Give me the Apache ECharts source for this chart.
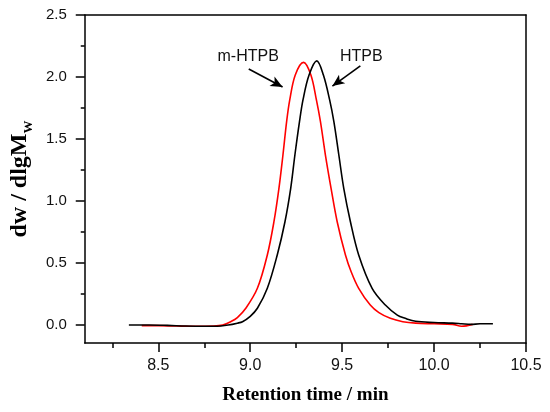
<!DOCTYPE html>
<html>
<head>
<meta charset="utf-8">
<script src="https://cdn.jsdelivr.net/npm/echarts@6/dist/echarts.min.js"></script>
<style>
html,body{margin:0;padding:0;background:#fff;}
#c{width:550px;height:412px;}
</style>
</head>
<body>
<div id="c"></div>
<script>
// Retention time (min) and dw/dlgMw values
const htpbX = [8.34, 8.45, 8.55, 8.65, 8.75, 8.82, 8.88, 8.93, 8.958, 9.00, 9.039, 9.093, 9.147, 9.189, 9.22, 9.243, 9.268, 9.287, 9.32, 9.362, 9.398, 9.432, 9.455, 9.482, 9.509, 9.545, 9.59, 9.663, 9.735, 9.80, 9.843, 9.90, 10.0, 10.1, 10.15, 10.2, 10.25, 10.32];
const htpbY = [0.00, 0.00, -0.003, -0.008, -0.01, -0.01, 0.00, 0.015, 0.027, 0.07, 0.135, 0.296, 0.565, 0.833, 1.10, 1.371, 1.64, 1.815, 2.016, 2.13, 2.016, 1.815, 1.64, 1.371, 1.10, 0.833, 0.565, 0.296, 0.161, 0.08, 0.054, 0.03, 0.02, 0.015, 0.01, 0.005, 0.01, 0.01];

const mhtpbX = [8.41, 8.5, 8.6, 8.7, 8.8, 8.85, 8.894, 8.93, 8.976, 9.039, 9.093, 9.129, 9.156, 9.178, 9.198, 9.215, 9.245, 9.29, 9.33, 9.36, 9.382, 9.409, 9.44, 9.473, 9.518, 9.549, 9.59, 9.653, 9.70, 9.762, 9.83, 9.9, 10.0, 10.1, 10.15, 10.21];
const mhtpbY = [-0.005, -0.005, -0.008, -0.01, -0.008, 0.0, 0.027, 0.06, 0.135, 0.296, 0.565, 0.833, 1.10, 1.371, 1.64, 1.815, 2.016, 2.118, 2.016, 1.815, 1.64, 1.371, 1.10, 0.833, 0.565, 0.43, 0.296, 0.161, 0.10, 0.054, 0.027, 0.015, 0.01, 0.005, -0.01, 0.005];

const xTicks = [8.5, 9.0, 9.5, 10.0, 10.5];
const xMinorTicks = [8.25, 8.75, 9.25, 9.75, 10.25];
const yTicks = [0, 0.5, 1.0, 1.5, 2.0, 2.5];
const yMinorTicks = [0.25, 0.75, 1.25, 1.75, 2.25];

const seriesNames = ['HTPB', 'm-HTPB'];
// annotation anchors in data units
const labelHTPB = [9.604, 2.164];
const labelMHTPB = [8.989, 2.164];
const arrowHTPB = [[9.599, 2.09], [9.447, 1.927]];
const arrowMHTPB = [[8.992, 2.065], [9.176, 1.92]];

const zip = (xs, ys) => xs.map((x, i) => [x, ys[i]]);

const X_MIN = 8.1, X_MAX = 10.5, Y_MIN = -0.145, Y_MAX = 2.5;
const lab = {fontFamily: 'Liberation Sans, Arial, sans-serif', color: '#111'};
const serif = 'Liberation Serif, Times New Roman, serif';

const chart = echarts.init(document.getElementById('c'), null, {renderer: 'canvas'});

function annot(text, pos, arrow) {
  return {
    markPoint: {
      silent: true,
      symbol: 'circle', symbolSize: 0,
      data: [{coord: pos, label: {show: true, position: 'inside', formatter: text, fontSize: 16, color: '#111', fontFamily: lab.fontFamily}}]
    },
    markLine: {
      silent: true,
      symbol: ['none', 'arrow'],
      symbolSize: [8, 12],
      lineStyle: {color: '#000', width: 1.6, type: 'solid'},
      label: {show: false},
      data: [[{coord: arrow[0]}, {coord: arrow[1]}]]
    }
  };
}

const option = {
  backgroundColor: '#fff',
  animation: false,
  grid: {left: 84, right: 24, top: 15, bottom: 69},
  xAxis: [
    {
      type: 'value', min: X_MIN, max: X_MAX, position: 'bottom',
      name: 'Retention time / min', nameLocation: 'middle', nameGap: 43,
      nameTextStyle: {fontFamily: serif, fontWeight: 'bold', fontSize: 19, color: '#000'},
      axisLine: {show: true, onZero: false, lineStyle: {color: '#000', width: 1.5}},
      axisTick: {show: true, inside: false, length: 9, customValues: xTicks, lineStyle: {color: '#000', width: 1.5}},
      axisLabel: {show: true, customValues: xTicks, margin: 15, fontSize: 16, ...lab, formatter: v => v.toFixed(1)},
      splitLine: {show: false}
    },
    {
      type: 'value', min: X_MIN, max: X_MAX, position: 'bottom', gridIndex: 0,
      axisLine: {show: false, onZero: false},
      axisTick: {show: true, inside: false, length: 5, customValues: xMinorTicks, lineStyle: {color: '#000', width: 1.5}},
      axisLabel: {show: false},
      splitLine: {show: false}
    },
    {
      type: 'value', min: X_MIN, max: X_MAX, position: 'top',
      axisLine: {show: true, onZero: false, lineStyle: {color: '#000', width: 1.5}},
      axisTick: {show: false}, axisLabel: {show: false}, splitLine: {show: false}
    }
  ],
  yAxis: [
    {
      type: 'value', min: Y_MIN, max: Y_MAX, position: 'left',
      name: 'dw / dlgM{s|W}', nameLocation: 'middle', nameGap: 49, nameRotate: 90,
      nameTextStyle: {
        fontFamily: serif, fontWeight: 'bold', fontSize: 24, color: '#000',
        rich: {
          s: {fontFamily: serif, fontWeight: 'bold', fontSize: 13, lineHeight: 13, padding: [14, 0, 0, 0], verticalAlign: 'top', color: '#000'}
        }
      },
      axisLine: {show: true, onZero: false, lineStyle: {color: '#000', width: 1.5}},
      axisTick: {show: true, inside: false, length: 9, customValues: yTicks, lineStyle: {color: '#000', width: 1.5}},
      axisLabel: {show: true, customValues: yTicks, margin: 18, fontSize: 15, ...lab, formatter: v => v.toFixed(1)},
      splitLine: {show: false}
    },
    {
      type: 'value', min: Y_MIN, max: Y_MAX, position: 'left',
      axisLine: {show: false, onZero: false},
      axisTick: {show: true, inside: false, length: 4, customValues: yMinorTicks, lineStyle: {color: '#000', width: 1.5}},
      axisLabel: {show: false},
      splitLine: {show: false}
    },
    {
      type: 'value', min: Y_MIN, max: Y_MAX, position: 'right',
      axisLine: {show: true, onZero: false, lineStyle: {color: '#000', width: 1.5}},
      axisTick: {show: false}, axisLabel: {show: false}, splitLine: {show: false}
    }
  ],
  series: [
    Object.assign({
      name: seriesNames[0], type: 'line', xAxisIndex: 0, yAxisIndex: 0,
      data: zip(htpbX, htpbY), showSymbol: false, symbol: 'none',
      smooth: 0.35,
      lineStyle: {color: '#000', width: 1.6}, z: 3
    }, annot('HTPB', labelHTPB, arrowHTPB)),
    Object.assign({
      name: seriesNames[1], type: 'line', xAxisIndex: 0, yAxisIndex: 0,
      data: zip(mhtpbX, mhtpbY), showSymbol: false, symbol: 'none',
      smooth: 0.35,
      lineStyle: {color: '#ff0000', width: 1.6}, z: 2
    }, annot('m-HTPB', labelMHTPB, arrowMHTPB))
  ]
};
chart.setOption(option);
</script>
</body>
</html>
